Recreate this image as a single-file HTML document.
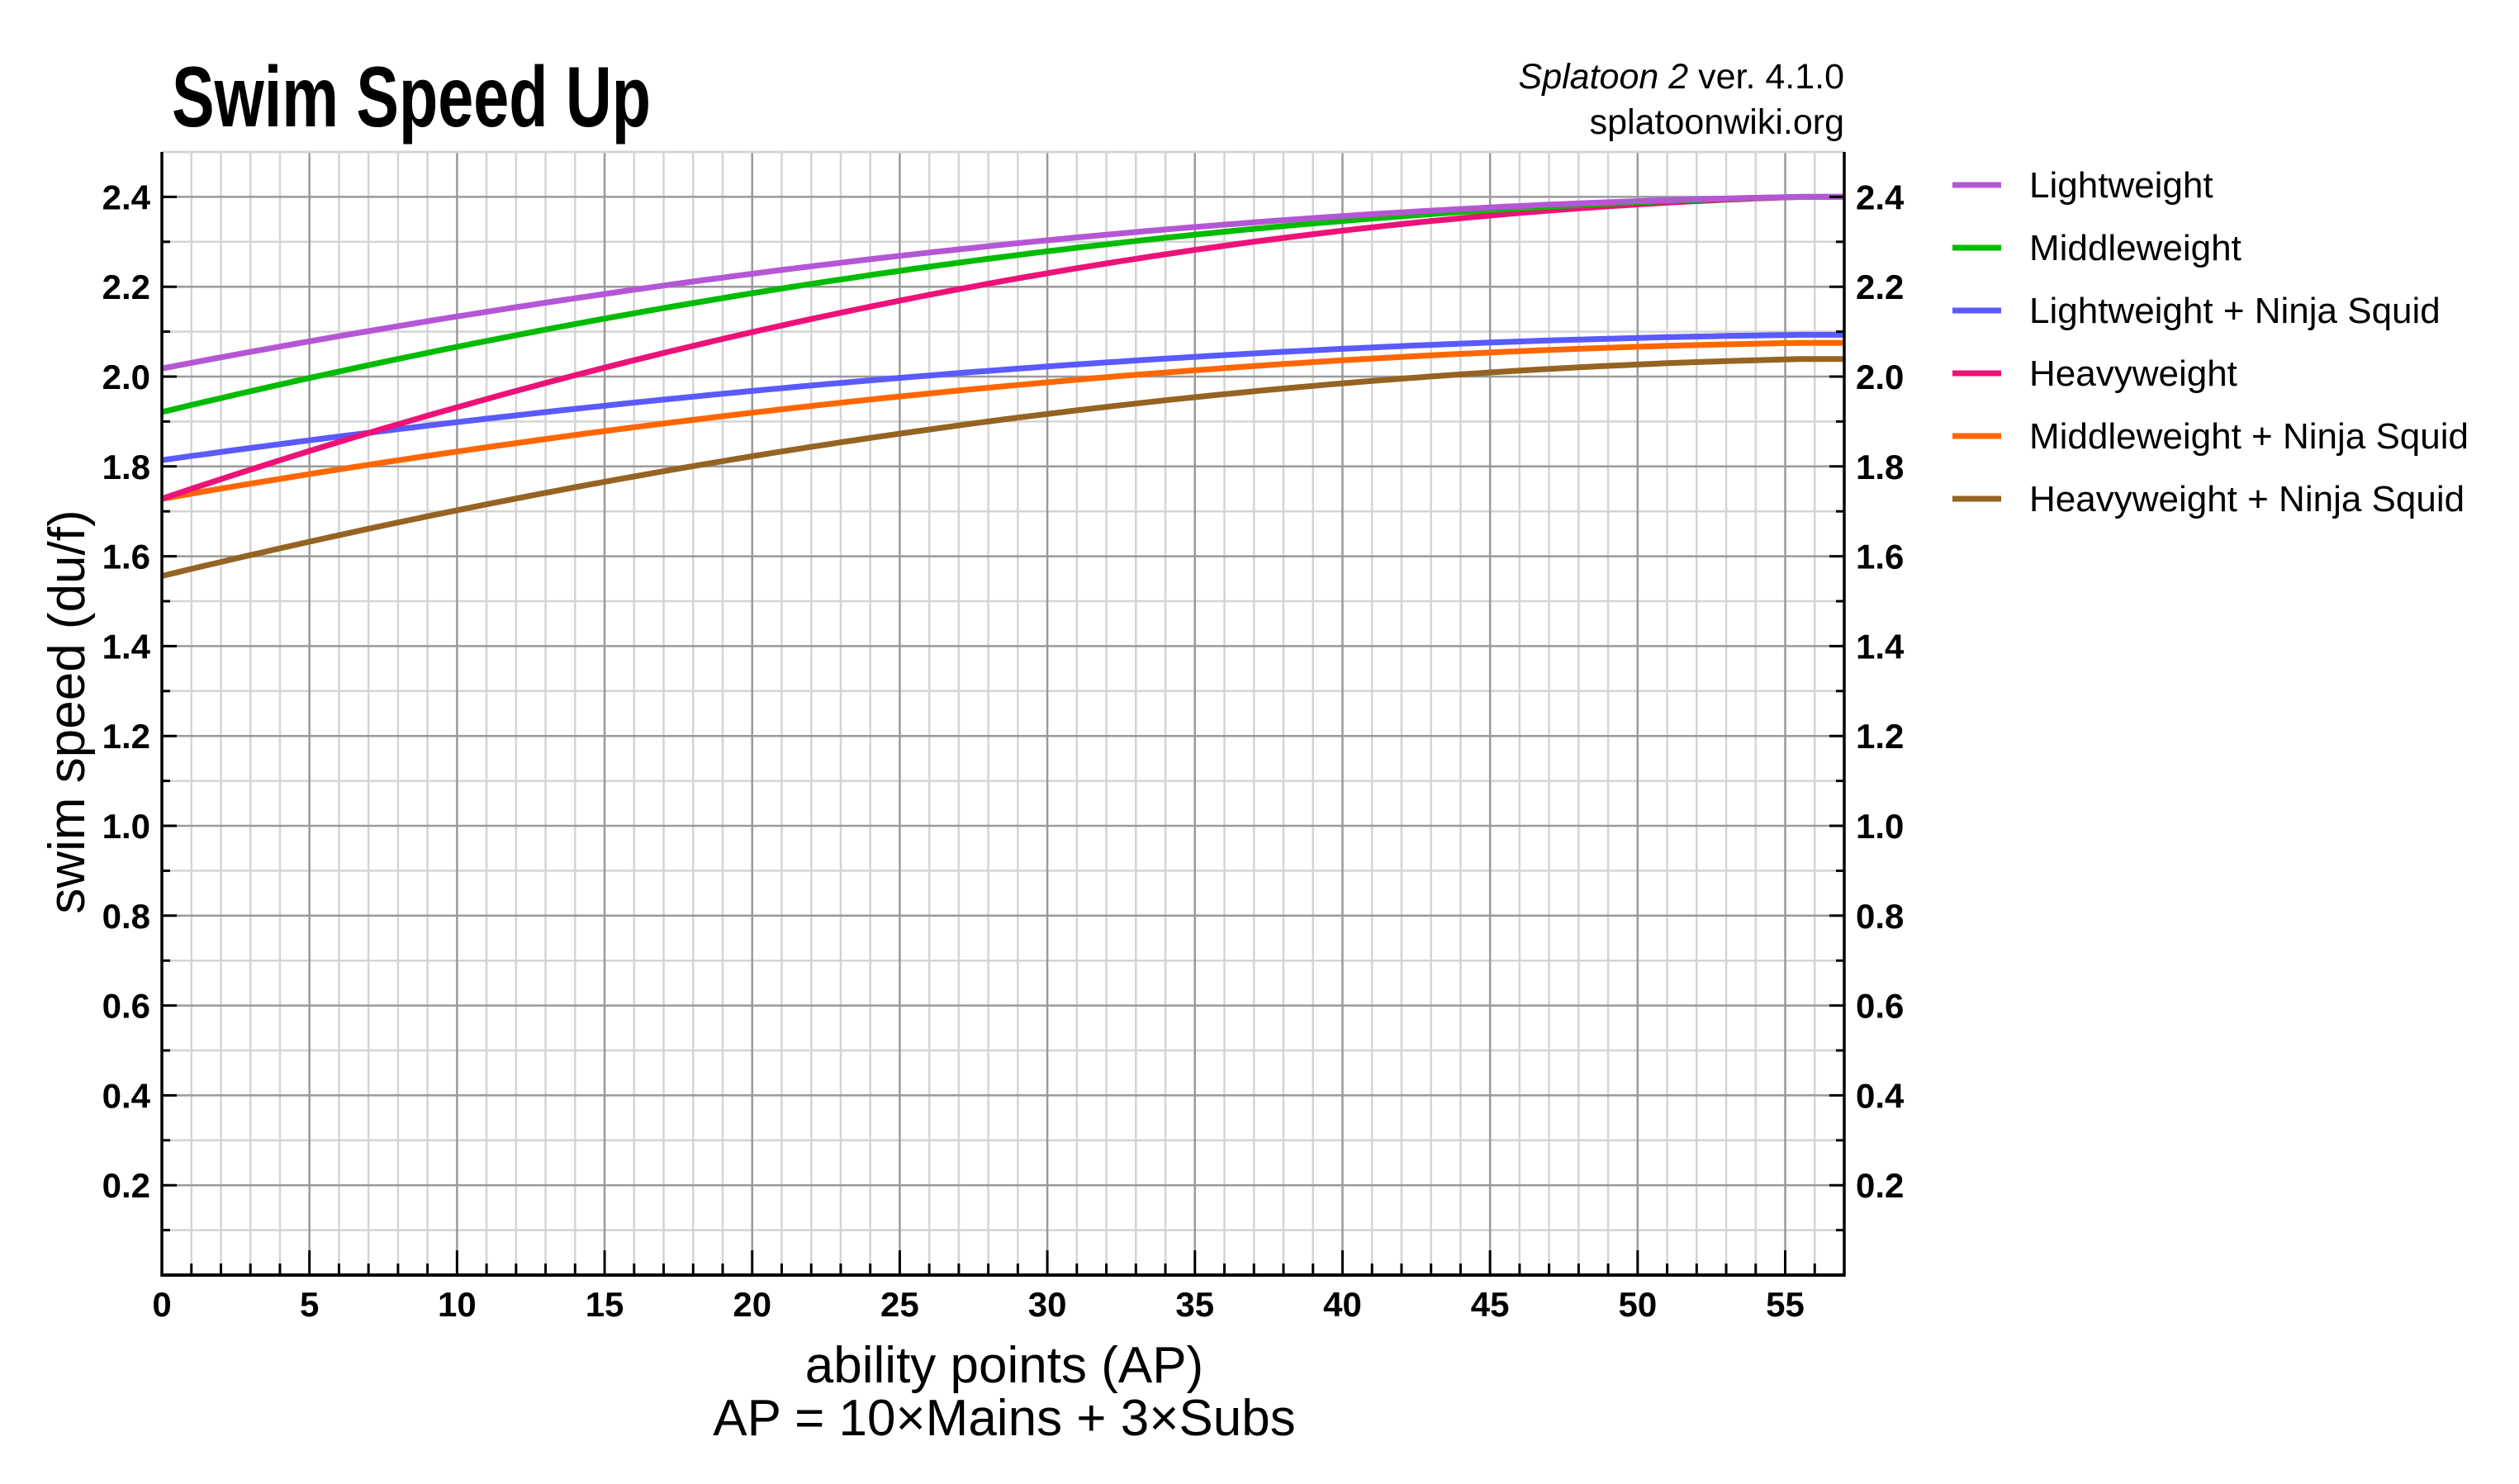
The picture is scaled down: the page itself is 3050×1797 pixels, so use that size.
<!DOCTYPE html>
<html><head><meta charset="utf-8"><style>
html,body{margin:0;padding:0;background:#fff;}
svg{display:block;}
text{font-family:"Liberation Sans",sans-serif;}
</style></head><body>
<svg id="s" width="3050" height="1797" viewBox="0 0 3050 1797" xmlns="http://www.w3.org/2000/svg">
<rect width="3050" height="1797" fill="#fff"/>
<g id="grid"></g>
<g id="curves" fill="none" stroke-width="7" stroke-linejoin="round"></g>
<g id="axes"></g>
<text x="208" y="153" font-weight="bold" font-size="104" textLength="580" lengthAdjust="spacingAndGlyphs">Swim Speed Up</text>
<text x="2233" y="107" font-size="43" text-anchor="end"><tspan font-style="italic">Splatoon 2</tspan> ver. 4.1.0</text>
<text x="2233" y="162" font-size="43" text-anchor="end">splatoonwiki.org</text>
<text x="1216" y="1674" font-size="62" text-anchor="middle">ability points (AP)</text>
<text x="1216" y="1738" font-size="62" text-anchor="middle">AP = 10×Mains + 3×Subs</text>
<text transform="translate(102,862) rotate(-90)" font-size="62" text-anchor="middle">swim speed (du/f)</text>
<g id="legend" font-size="44"></g>
</svg>
<script>
const L=196,R=2233,T=184,B=1544;
const xs=v=>L+(R-L)*v/57, ys=v=>B-(B-T)*v/2.5;
const NS="http://www.w3.org/2000/svg";
function el(p,n,a,t){const e=document.createElementNS(NS,n);for(const k in a)e.setAttribute(k,a[k]);if(t!==undefined)e.textContent=t;document.getElementById(p).appendChild(e);return e;}
for(let i=1;i<57;i++){ if(i%5) el('grid','line',{x1:xs(i),x2:xs(i),y1:T,y2:B,stroke:'#d4d4d4','stroke-width':2.5}); }
for(let i=1;i<25;i++){ if(i%2) el('grid','line',{x1:L,x2:R,y1:ys(i/10),y2:ys(i/10),stroke:'#d4d4d4','stroke-width':2.5}); }
for(let i=5;i<57;i+=5) el('grid','line',{x1:xs(i),x2:xs(i),y1:T,y2:B,stroke:'#9a9a9a','stroke-width':2.5});
for(let i=2;i<25;i+=2) el('grid','line',{x1:L,x2:R,y1:ys(i/10),y2:ys(i/10),stroke:'#9a9a9a','stroke-width':2.5});
el('grid','line',{x1:L,x2:R,y1:T,y2:T,stroke:'#d4d4d4','stroke-width':3});
const ser=[["#b556d6",2.018,2.4],["#00bb00",1.921,2.4],["#5a5aff",1.814,2.093],["#ee1177",1.728,2.4],["#ff6600",1.728,2.075],["#956322",1.556,2.039]];
const names=["Lightweight","Middleweight","Lightweight + Ninja Squid","Heavyweight","Middleweight + Ninja Squid","Heavyweight + Ninja Squid"];
const order=[5,4,2,3,1,0];
order.forEach(k=>{const[c,a,b]=ser[k];let d="";for(let x=0;x<=57;x+=0.5){let p=Math.min(1,(3.3*x-0.027*x*x)/100);d+=(x?"L":"M")+xs(x).toFixed(1)+","+ys(a+(b-a)*p).toFixed(1);}el('curves','path',{d:d,stroke:c});});
el('axes','line',{x1:L,x2:L,y1:T,y2:B+1.5,stroke:'#000','stroke-width':3.5});
el('axes','line',{x1:R,x2:R,y1:T,y2:B+1.5,stroke:'#000','stroke-width':3.5});
el('axes','line',{x1:L-1.5,x2:R+1.5,y1:B,y2:B,stroke:'#000','stroke-width':4});
for(let i=1;i<=24;i++){const y=ys(i/10),len=i%2?10:18;
 el('axes','line',{x1:L,x2:L+len,y1:y,y2:y,stroke:'#000','stroke-width':3});
 el('axes','line',{x1:R,x2:R-len,y1:y,y2:y,stroke:'#000','stroke-width':3});
 if(i%2==0){const s=(i/10).toFixed(1);
  el('axes','text',{x:L-14,y:y+15,'font-size':42,'font-weight':'bold','text-anchor':'end'},s);
  el('axes','text',{x:R+14,y:y+15,'font-size':42,'font-weight':'bold'},s);}
}
for(let i=0;i<=57;i++){const x=xs(i),len=i%5?14:30;
 el('axes','line',{x1:x,x2:x,y1:B,y2:B-len,stroke:'#000','stroke-width':3});
 if(i%5==0) el('axes','text',{x:x,y:1594,'font-size':42,'font-weight':'bold','text-anchor':'middle'},String(i));
}
const ly=[224,300,376,452,528,604];
for(let k=0;k<6;k++){el('legend','line',{x1:2364,x2:2423,y1:ly[k],y2:ly[k],stroke:ser[k][0],'stroke-width':7});
 el('legend','text',{x:2457,y:ly[k]+15},names[k]);}
</script>
</body></html>
